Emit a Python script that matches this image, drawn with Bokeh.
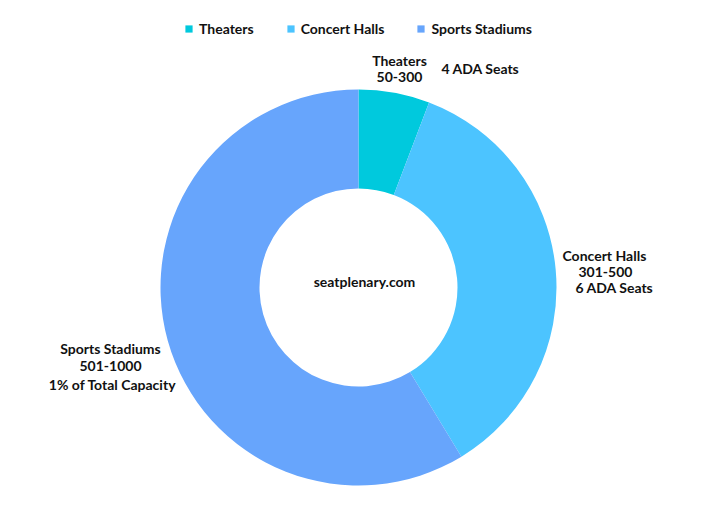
import numpy as np
from bokeh.core.properties import value
from bokeh.embed import file_html
from bokeh.models import ColumnDataSource, Legend, LegendItem
from bokeh.plotting import figure
from bokeh.resources import INLINE

W, H = 689, 492

venues = ["Theaters", "Concert Halls", "Sports Stadiums"]
shares = [5.8, 35.5, 58.7]
colors = ["#00C9DD", "#4CC4FF", "#67A5FC"]

label_lines = [
    ["Theaters", "50-300", "4 ADA Seats"],
    ["Concert Halls", "301-500", "6 ADA Seats"],
    ["Sports Stadiums", "501-1000", "1% of Total Capacity"],
]
center_text = "seatplenary.com"

# label positions in page pixels (x, y, align)
label_pos = [
    [(399, 60, "center"), (399, 76, "center"), (441, 68, "left")],
    [(562, 255, "left"), (578, 271, "left"), (575, 287, "left")],
    [(110, 348, "center"), (110, 365, "center"), (112, 384, "center")],
]

cx, cy = 358, H - 287
r_out, r_in = 198, 99

frac = np.array(shares) / sum(shares)
ends = np.cumsum(frac)
starts = ends - frac
src = ColumnDataSource(dict(
    venue=venues,
    color=colors,
    start=np.pi / 2 - starts * 2 * np.pi,
    end=np.pi / 2 - ends * 2 * np.pi,
))

p = figure(width=W, height=H, x_range=(0, W), y_range=(0, H),
           output_backend="svg", toolbar_location=None, min_border=0)
p.axis.visible = False
p.grid.visible = False
p.outline_line_color = None
p.background_fill_color = "white"

r = p.annular_wedge(x=cx, y=cy, inner_radius=r_in, outer_radius=r_out,
                    start_angle="start", end_angle="end", direction="clock",
                    color="color", line_color=None, source=src)

font = value("Lato")
xs, ys, txt, aligns = [], [], [], []
for lines, poss in zip(label_lines, label_pos):
    for t, (sx, sy, al) in zip(lines, poss):
        xs.append(sx)
        ys.append(H - sy)
        txt.append(t)
        aligns.append(al)
for al in ("left", "center"):
    idx = [i for i, a in enumerate(aligns) if a == al]
    p.text(x=[xs[i] for i in idx], y=[ys[i] for i in idx], text=[txt[i] for i in idx],
           text_font=font, text_font_style="bold", text_font_size="14px",
           text_color="#111111", text_align=al, text_baseline="middle")

p.text(x=[364], y=[H - 281], text=[center_text], text_font=font, text_font_style="bold",
       text_font_size="14px", text_color="#111111", text_align="center",
       text_baseline="middle")

items = [LegendItem(label=v, renderers=[r], index=i) for i, v in enumerate(venues)]
legend = Legend(items=items, orientation="horizontal", location=(184, 455),
                glyph_width=9, glyph_height=9, label_standoff=6, spacing=32,
                label_text_font="Lato", label_text_font_style="bold",
                label_text_font_size="14px", label_text_color="#111111",
                border_line_color=None, background_fill_alpha=0,
                padding=0, margin=0)
p.add_layout(legend, "center")

open("out.html", "w").write(file_html(p, INLINE))
